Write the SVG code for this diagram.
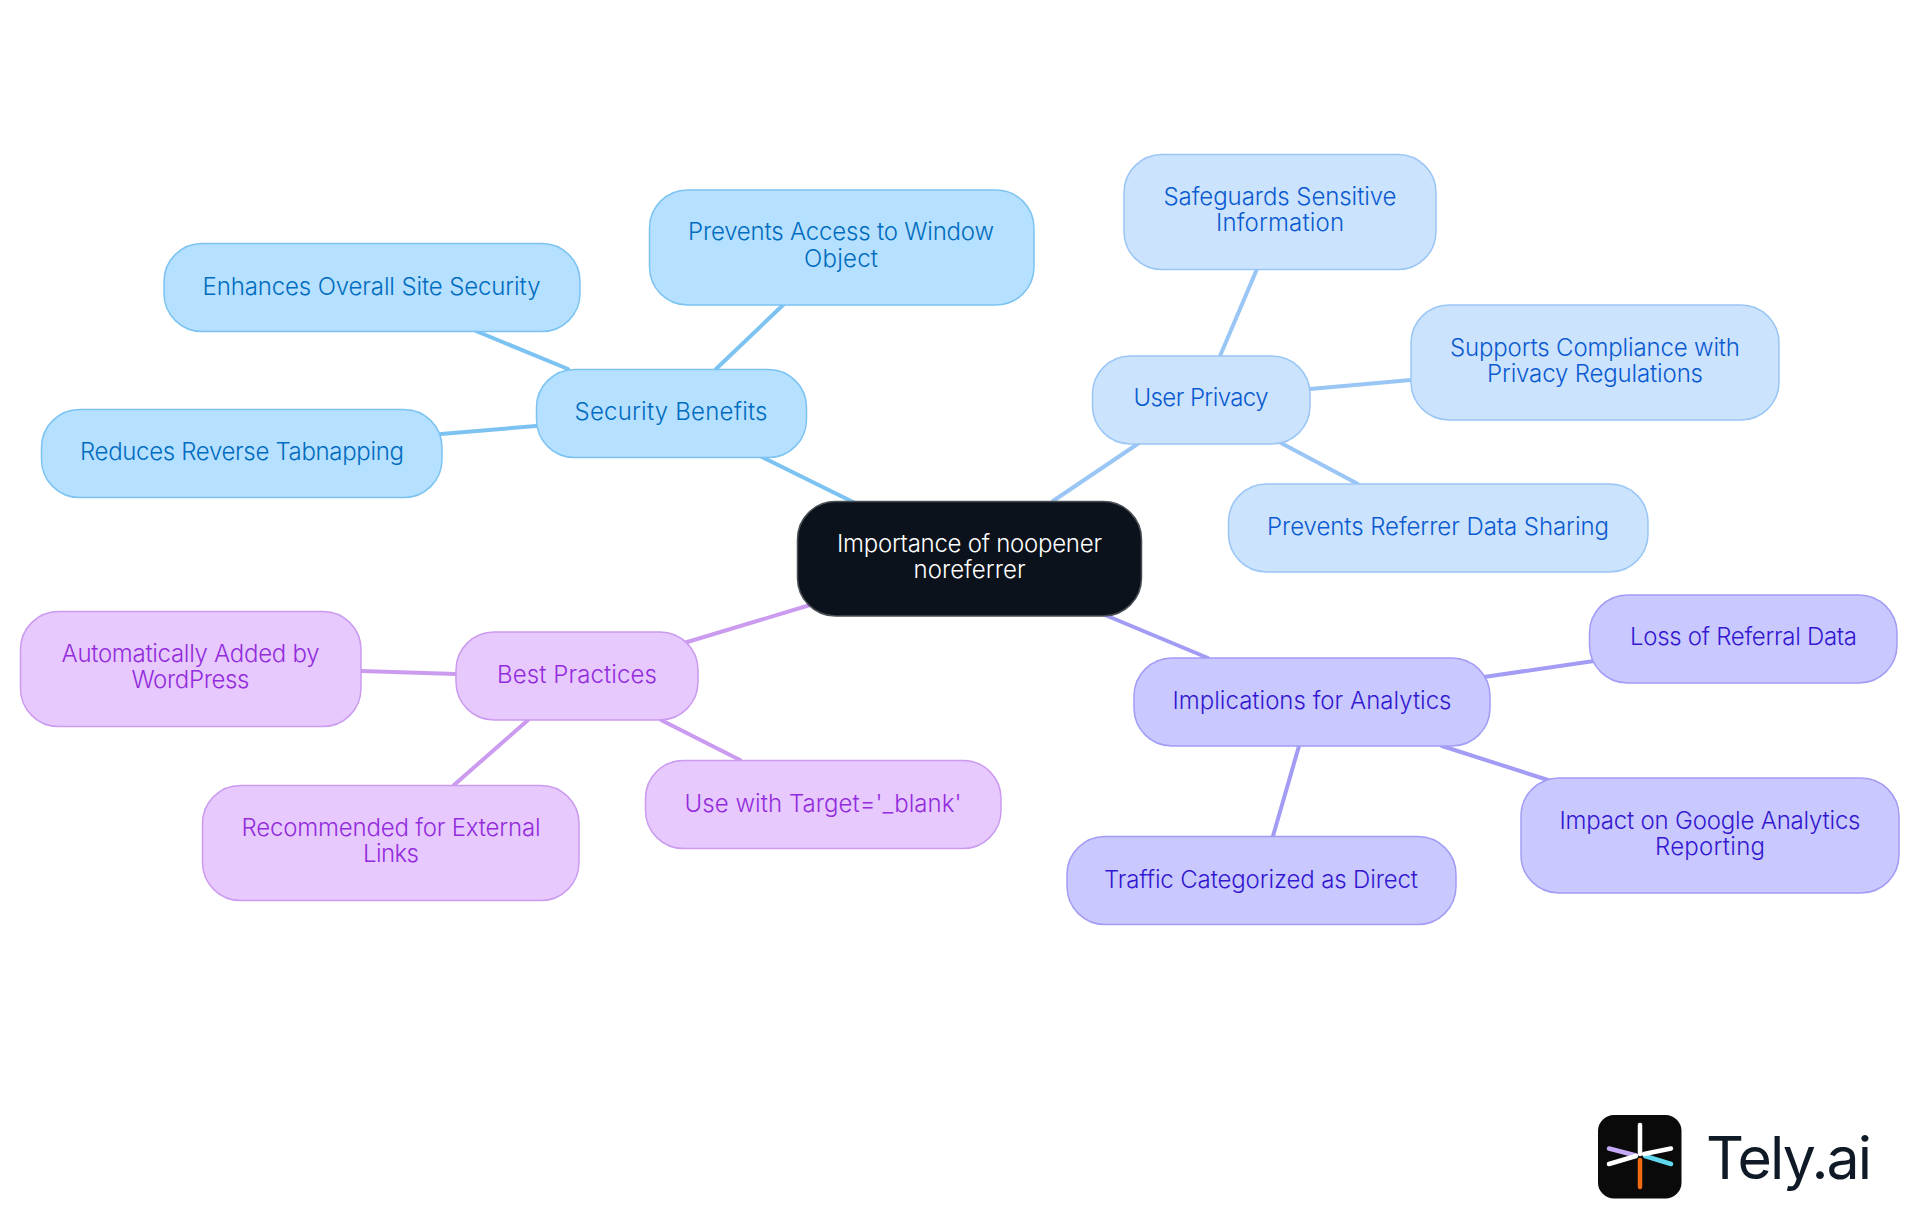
<svg xmlns="http://www.w3.org/2000/svg" width="1920" height="1215" viewBox="0 0 1920 1215">
<style>
text{font-family:"Inter","Noto Sans","Liberation Sans",sans-serif;font-size:24px;font-weight:300;text-anchor:middle}
.c line{stroke-width:4;stroke-linecap:round}
.s rect{fill:#b6e0ff;stroke:#7cc3f2;stroke-width:1.5}.s text{fill:#006cc0}.s1{stroke:#7cc3f2}
.u rect{fill:#cce3fd;stroke:#9ac6f5;stroke-width:1.5}.u text{fill:#0a5ad0}.u1{stroke:#9ac6f5}
.a rect{fill:#c9c9ff;stroke:#a29cf5;stroke-width:1.5}.a text{fill:#3318d0}.a1{stroke:#a29cf5}
.b rect{fill:#e7c9fe;stroke:#cb9bf0;stroke-width:1.5}.b text{fill:#922cdc}.b1{stroke:#cb9bf0}
</style>
<rect width="1920" height="1215" fill="#fff"/>
<g id="connectors" class="c">
<line class="s1" x1="855" y1="503" x2="762" y2="457"/><line class="s1" x1="716" y1="369" x2="783" y2="305"/><line class="s1" x1="568" y1="369" x2="476" y2="331"/><line class="s1" x1="536" y1="426" x2="441" y2="434"/>
<line class="u1" x1="1053" y1="501" x2="1139" y2="443"/><line class="u1" x1="1220" y1="356" x2="1257" y2="269"/><line class="u1" x1="1310" y1="389" x2="1411" y2="380"/><line class="u1" x1="1281" y1="443" x2="1358" y2="484"/>
<line class="a1" x1="1105" y1="615" x2="1208" y2="658"/><line class="a1" x1="1484" y1="677" x2="1594" y2="661"/><line class="a1" x1="1442" y1="746" x2="1548" y2="780"/><line class="a1" x1="1299" y1="746" x2="1273" y2="836"/>
<line class="b1" x1="810" y1="605" x2="684" y2="643"/><line class="b1" x1="456" y1="674" x2="361" y2="671"/><line class="b1" x1="528" y1="720" x2="454" y2="785"/><line class="b1" x1="661" y1="720" x2="740" y2="760"/>
</g>
<g id="root"><rect x="797.500" y="501.500" width="344" height="114.500" rx="38" fill="#0b121b" stroke="#4a4f55" stroke-width="1.500"/><text x="969.500" y="552" fill="#fff" textLength="265">Importance of noopener</text><text x="969.500" y="578" fill="#fff" textLength="112">noreferrer</text></g>
<g id="security" class="s"><rect x="536.500" y="369.500" width="270" height="88" rx="38"/><text x="671" y="420" textLength="193">Security Benefits</text></g>
<g id="window" class="s"><rect x="649.500" y="190" width="384.500" height="115" rx="38"/><text x="841" y="240" textLength="306">Prevents Access to Window</text><text x="841" y="267" textLength="74">Object</text></g>
<g id="enhances" class="s"><rect x="164" y="243.500" width="416" height="88" rx="38"/><text x="371.500" y="294.500" textLength="338">Enhances Overall Site Security</text></g>
<g id="reduces" class="s"><rect x="41.500" y="409.500" width="400.500" height="88" rx="38"/><text x="242" y="460" textLength="324">Reduces Reverse Tabnapping</text></g>
<g id="privacy" class="u"><rect x="1092.500" y="356" width="217.500" height="88" rx="38"/><text x="1201" y="406" textLength="135">User Privacy</text></g>
<g id="safeguards" class="u"><rect x="1124" y="154.500" width="312" height="115" rx="38"/><text x="1280" y="205" textLength="233">Safeguards Sensitive</text><text x="1280" y="231" textLength="128">Information</text></g>
<g id="compliance" class="u"><rect x="1411" y="305" width="368" height="115" rx="38"/><text x="1595" y="356" textLength="290">Supports Compliance with</text><text x="1595" y="382" textLength="216">Privacy Regulations</text></g>
<g id="referrer" class="u"><rect x="1228.500" y="484" width="419.500" height="88" rx="38"/><text x="1438" y="535" textLength="342">Prevents Referrer Data Sharing</text></g>
<g id="analytics" class="a"><rect x="1134" y="658" width="356" height="88" rx="38"/><text x="1312" y="709" textLength="279">Implications for Analytics</text></g>
<g id="loss" class="a"><rect x="1589.500" y="595" width="307.500" height="88" rx="38"/><text x="1743.500" y="645" textLength="227">Loss of Referral Data</text></g>
<g id="impact" class="a"><rect x="1521" y="778" width="378" height="115" rx="38"/><text x="1710" y="829" textLength="301">Impact on Google Analytics</text><text x="1710" y="855" textLength="110">Reporting</text></g>
<g id="traffic" class="a"><rect x="1067" y="836.500" width="389" height="88" rx="38"/><text x="1261" y="887.500" textLength="314">Traffic Categorized as Direct</text></g>
<g id="best" class="b"><rect x="456" y="632" width="242" height="88" rx="38"/><text x="577" y="682.500" textLength="160">Best Practices</text></g>
<g id="wordpress" class="b"><rect x="20.500" y="611.500" width="340.500" height="115" rx="38"/><text x="190.500" y="662" textLength="258">Automatically Added by</text><text x="190.500" y="688" textLength="118">WordPress</text></g>
<g id="external" class="b"><rect x="202.500" y="785.500" width="376.500" height="115" rx="38"/><text x="391" y="836" textLength="299">Recommended for External</text><text x="391" y="862" textLength="56">Links</text></g>
<g id="blank" class="b"><rect x="645.500" y="760.500" width="355.500" height="88" rx="38"/><text x="823" y="811.500" textLength="277">Use with Target='_blank'</text></g>
<g id="logo">
<rect x="1598" y="1115" width="83.500" height="83.500" rx="16" fill="#0a0a0a"/>
<g stroke-width="4.500" stroke-linecap="round"><line x1="1640" y1="1125" x2="1640" y2="1154" stroke="#fff"/><line x1="1640" y1="1160" x2="1640" y2="1187" stroke="#f26a0f"/><line x1="1609" y1="1148.500" x2="1636" y2="1155.500" stroke="#c6a9f5"/><line x1="1645" y1="1156" x2="1671" y2="1164" stroke="#5fd8ee"/><line x1="1609" y1="1164" x2="1636" y2="1156" stroke="#fff"/><line x1="1644" y1="1154" x2="1671" y2="1148.500" stroke="#fff"/></g>
<text x="1706" y="1179" textLength="166" style="font-size:59px;font-weight:400;text-anchor:start;fill:#101a26">Tely.ai</text>
</g>
</svg>
